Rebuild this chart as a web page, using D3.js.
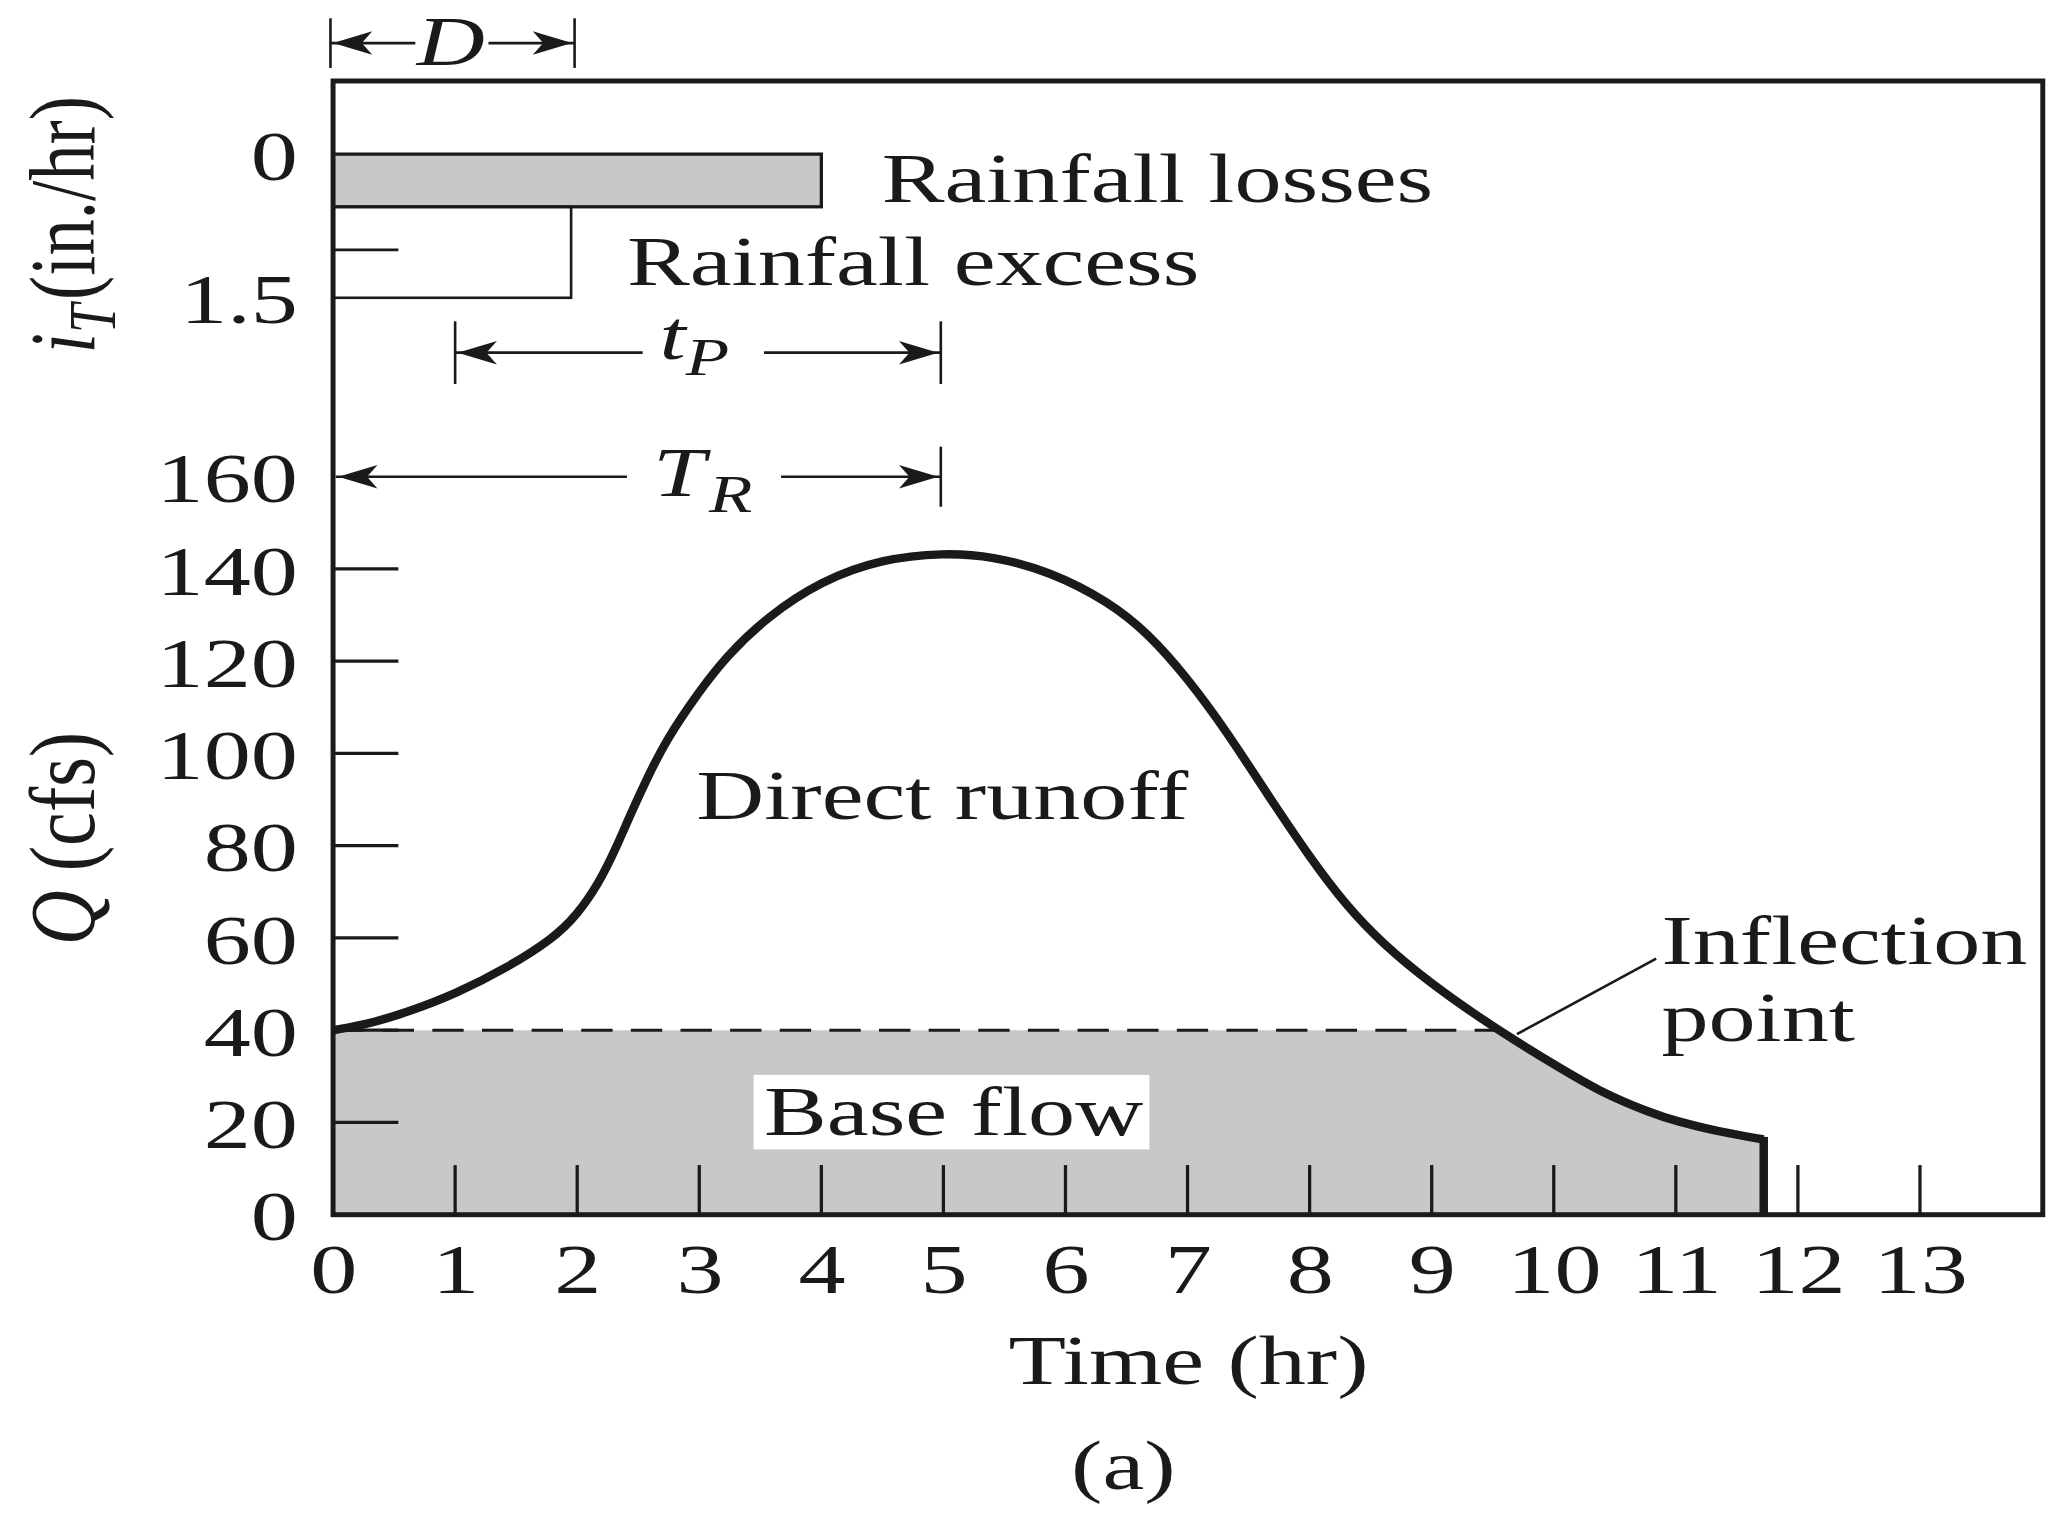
<!DOCTYPE html>
<html>
<head>
<meta charset="utf-8">
<script src="https://cdn.jsdelivr.net/npm/d3@7"></script>
<style>
  html, body { margin: 0; padding: 0; background: #fff; }
  svg { display: block; }
  text { font-family: "Liberation Serif", "DejaVu Serif", serif; fill: #1a1a1a; }
</style>
</head>
<body>
<svg id="chart"></svg>
<script>
(function(){
// ---------------- data ----------------
const timeTicks = [0,1,2,3,4,5,6,7,8,9,10,11,12,13];
const flowTicks = [0,20,40,60,80,100,120,140,160];
const rainTickLabels = [0, 1.5];
const rainMinorTicks = [1.0];

// hydrograph (time hr, Q cfs)
const hydroT = [0, 0.3, 0.62, 1.0, 1.43, 1.8, 2.0, 2.18, 2.31, 2.44, 2.57, 2.73, 3.0, 3.22, 3.55, 4.0, 4.5, 5.0, 5.4, 5.87, 6.35, 6.68, 7.0, 7.32, 7.65, 8.0, 8.3, 8.6, 9.0, 9.4, 9.68, 10.0, 10.38, 10.8, 11.0, 11.33, 11.72];
const hydroQ = [40, 41.4, 44, 47.8, 53.6, 59.8, 65, 72, 79, 87, 94.5, 103, 113.5, 121, 129.5, 137.5, 142.2, 143.5, 142.8, 139.5, 133, 126, 116.3, 104.8, 91.3, 77.5, 67, 58.7, 50, 42.6, 37.8, 32.6, 26.6, 22, 20.3, 18.1, 16.3];
const hydroEndT = 11.72;
const baseFlowQ = 40;
const inflectionT = 9.57;

// rainfall (hyetograph)
const lossesBar = { t0: 0, t1: 4, i0: 0, i1: 0.55 };
const excessBar = { t0: 0, t1: 1.95, i0: 0.55, i1: 1.5 };
const durationD = [0, 2];
const tP = [1, 5];
const TR = [0, 5];

// ---------------- layout ----------------
const W = 1568, H = 1176;
const svg = d3.select("#chart")
  .attr("width", 2048).attr("height", 1536)
  .attr("viewBox", `0 0 ${W} ${H}`);

const pL = 255, pR = 1564, pB = 930, pT = 62;
const x = d3.scaleLinear().domain([0, 14]).range([pL, pL + 14 * 93.46]);
const yQ = d3.scaleLinear().domain([0, 160]).range([pB, 365]);
const yI = d3.scaleLinear().domain([0, 1.5]).range([118, 228]);

const FS = 53;
const SX = 1.36;
const ink = "#1a1a1a";
const gray = "#c8c8c8";

const defs = svg.append("defs");
defs.append("clipPath").attr("id", "baseClip")
  .append("rect").attr("x", pL).attr("y", yQ(baseFlowQ))
  .attr("width", x(14) - pL).attr("height", pB - yQ(baseFlowQ));

const pts = hydroT.map((t, i) => [t, hydroQ[i]]);
const curve = d3.curveBasis;

const area = d3.area().x(d => x(d[0])).y0(yQ(0)).y1(d => yQ(d[1])).curve(curve);
svg.append("path").attr("d", area(pts)).attr("fill", gray).attr("clip-path", "url(#baseClip)");

svg.append("line")
  .attr("x1", x(0)).attr("x2", x(inflectionT))
  .attr("y1", yQ(baseFlowQ)).attr("y2", yQ(baseFlowQ))
  .attr("stroke", ink).attr("stroke-width", 2.2).attr("stroke-dasharray", "24,14");

svg.append("rect")
  .attr("x", x(lossesBar.t0)).attr("y", yI(lossesBar.i0))
  .attr("width", x(lossesBar.t1) - x(lossesBar.t0)).attr("height", yI(lossesBar.i1) - yI(lossesBar.i0))
  .attr("fill", gray).attr("stroke", ink).attr("stroke-width", 2.5);
svg.append("rect")
  .attr("x", x(excessBar.t0)).attr("y", yI(excessBar.i0))
  .attr("width", x(excessBar.t1) - x(excessBar.t0)).attr("height", yI(excessBar.i1) - yI(excessBar.i0))
  .attr("fill", "none").attr("stroke", ink).attr("stroke-width", 2);

const line = d3.line().x(d => x(d[0])).y(d => yQ(d[1])).curve(curve);
svg.append("path").attr("d", line(pts)).attr("fill", "none")
  .attr("stroke", ink).attr("stroke-width", 6.5).attr("stroke-linejoin", "round");
svg.append("line")
  .attr("x1", x(hydroEndT)).attr("x2", x(hydroEndT))
  .attr("y1", yQ(hydroQ[hydroQ.length - 1]) - 2).attr("y2", yQ(0))
  .attr("stroke", ink).attr("stroke-width", 6.5);

svg.append("rect").attr("x", pL).attr("y", pT)
  .attr("width", pR - pL).attr("height", pB - pT)
  .attr("fill", "none").attr("stroke", ink).attr("stroke-width", 3.8);

const xAxis = d3.axisBottom(x).tickValues(timeTicks).tickSize(0).tickPadding(0).tickFormat(d3.format("d"));
const gx = svg.append("g").attr("transform", `translate(0,${pB})`).call(xAxis);
gx.select(".domain").remove();
gx.selectAll(".tick text").attr("y", 60).attr("dy", null)
  .style("font-size", FS + "px").style("font-family", "Liberation Serif").attr("fill", ink).classed("stretch", true);
svg.append("g").selectAll("line").data(timeTicks.filter(d => d > 0)).join("line")
  .attr("x1", d => x(d)).attr("x2", d => x(d))
  .attr("y1", pB).attr("y2", pB - 38)
  .attr("stroke", ink).attr("stroke-width", 2.5);

const yAxis = d3.axisLeft(yQ).tickValues(flowTicks).tickSize(0).tickPadding(27).tickFormat(d3.format("d"));
const gy = svg.append("g").attr("transform", `translate(${pL},0)`).call(yAxis);
gy.select(".domain").remove();
gy.selectAll(".tick text").attr("dy", "0.36em")
  .style("font-size", FS + "px").style("font-family", "Liberation Serif").attr("fill", ink).classed("stretch", true);
svg.append("g").selectAll("line").data(flowTicks.filter(d => d > 0 && d < 160)).join("line")
  .attr("x1", pL).attr("x2", pL + 50)
  .attr("y1", d => yQ(d)).attr("y2", d => yQ(d))
  .attr("stroke", ink).attr("stroke-width", 2.5);

const yIAxis = d3.axisLeft(yI).tickValues(rainTickLabels).tickSize(0).tickPadding(27).tickFormat(d => d === 0 ? "0" : d3.format(".1f")(d));
const gi = svg.append("g").attr("transform", `translate(${pL},0)`).call(yIAxis);
gi.select(".domain").remove();
gi.selectAll(".tick text").attr("dy", "0.36em")
  .style("font-size", FS + "px").style("font-family", "Liberation Serif").attr("fill", ink).classed("stretch", true);
svg.append("g").selectAll("line").data(rainMinorTicks).join("line")
  .attr("x1", pL).attr("x2", pL + 50)
  .attr("y1", d => yI(d)).attr("y2", d => yI(d))
  .attr("stroke", ink).attr("stroke-width", 2);

function arrowHead(px, py, dir) {
  const L = 30, hw = 9;
  const p = [[px, py], [px - dir * L, py - hw], [px - dir * (L - 8), py], [px - dir * L, py + hw]];
  svg.append("path").attr("d", "M" + p.map(q => q.join(",")).join("L") + "Z").attr("fill", ink);
}
function dimArrow(xa, xb, yy, gapA, gapB, tickA, tickB, tickHalf) {
  svg.append("line").attr("x1", xa).attr("x2", gapA).attr("y1", yy).attr("y2", yy).attr("stroke", ink).attr("stroke-width", 2);
  svg.append("line").attr("x1", gapB).attr("x2", xb).attr("y1", yy).attr("y2", yy).attr("stroke", ink).attr("stroke-width", 2);
  arrowHead(xa + 2, yy, -1);
  arrowHead(xb - 2, yy, 1);
  if (tickA) svg.append("line").attr("x1", xa).attr("x2", xa).attr("y1", yy - tickHalf).attr("y2", yy + tickHalf).attr("stroke", ink).attr("stroke-width", 2);
  if (tickB) svg.append("line").attr("x1", xb).attr("x2", xb).attr("y1", yy - tickHalf).attr("y2", yy + tickHalf).attr("stroke", ink).attr("stroke-width", 2);
}
function txt(xx, yy, s, opts) {
  const t = svg.append("text").attr("x", xx).attr("y", yy).style("font-size", FS + "px").classed("stretch", true);
  if (opts && opts.anchor) t.attr("text-anchor", opts.anchor);
  if (opts && opts.italic) t.style("font-style", "italic");
  if (s) t.text(s);
  return t;
}

dimArrow(x(durationD[0]) - 2, x(durationD[1]) - 2, 33, 318, 374, true, true, 19);
txt(345, 50, "D", { anchor: "middle", italic: true });

dimArrow(x(tP[0]), x(tP[1]) - 2, 270, 492, 585, true, true, 24);
const tpText = txt(505, 275, null);
tpText.append("tspan").style("font-style", "italic").text("t");
tpText.append("tspan").attr("dy", 12).style("font-style", "italic").style("font-size", "40px").text("P");

dimArrow(x(TR[0]) + 2, x(TR[1]) - 2, 365, 480, 598, false, true, 23);
const trText = txt(500, 380, null);
trText.append("tspan").style("font-style", "italic").text("T");
trText.append("tspan").attr("dx", 2).attr("dy", 12).style("font-style", "italic").style("font-size", "40px").text("R");

txt(675, 155, "Rainfall losses");
txt(480, 218, "Rainfall excess");
txt(533, 627, "Direct runoff");
svg.append("rect").attr("x", 577).attr("y", 823).attr("width", 303).attr("height", 57).attr("fill", "#fff");
txt(585, 869, "Base flow");
txt(1272, 738, "Inflection");
txt(1272, 797, "point");
svg.append("line").attr("x1", x(inflectionT) + 12).attr("y1", yQ(baseFlowQ) + 3)
  .attr("x2", 1268).attr("y2", 734).attr("stroke", ink).attr("stroke-width", 2);

txt(910, 1060, "Time (hr)", { anchor: "middle" });
txt(860, 1140, "(a)", { anchor: "middle" });

svg.selectAll("text.stretch").each(function() {
  const el = d3.select(this);
  const tx = +el.attr("x") || 0, ty = +el.attr("y") || 0;
  el.attr("x", 0).attr("y", 0).attr("transform", `translate(${tx},${ty}) scale(${SX},1)`);
});

const qLab = svg.append("text").attr("transform", "translate(72,642) rotate(-90) scale(1.1,1.36)")
  .attr("text-anchor", "middle").style("font-size", FS + "px");
qLab.append("tspan").style("font-style", "italic").text("Q");
qLab.append("tspan").text(" (cfs)");

const iLab = svg.append("text").attr("transform", "translate(72,172) rotate(-90) scale(1.05,1.36)")
  .attr("text-anchor", "middle").style("font-size", FS + "px");
iLab.append("tspan").style("font-style", "italic").text("i");
iLab.append("tspan").attr("dy", 12).style("font-style", "italic").style("font-size", "38px").text("T");
iLab.append("tspan").attr("dy", -12).attr("dx", 3).text("(in./hr)");
})();
</script>
</body>
</html>
